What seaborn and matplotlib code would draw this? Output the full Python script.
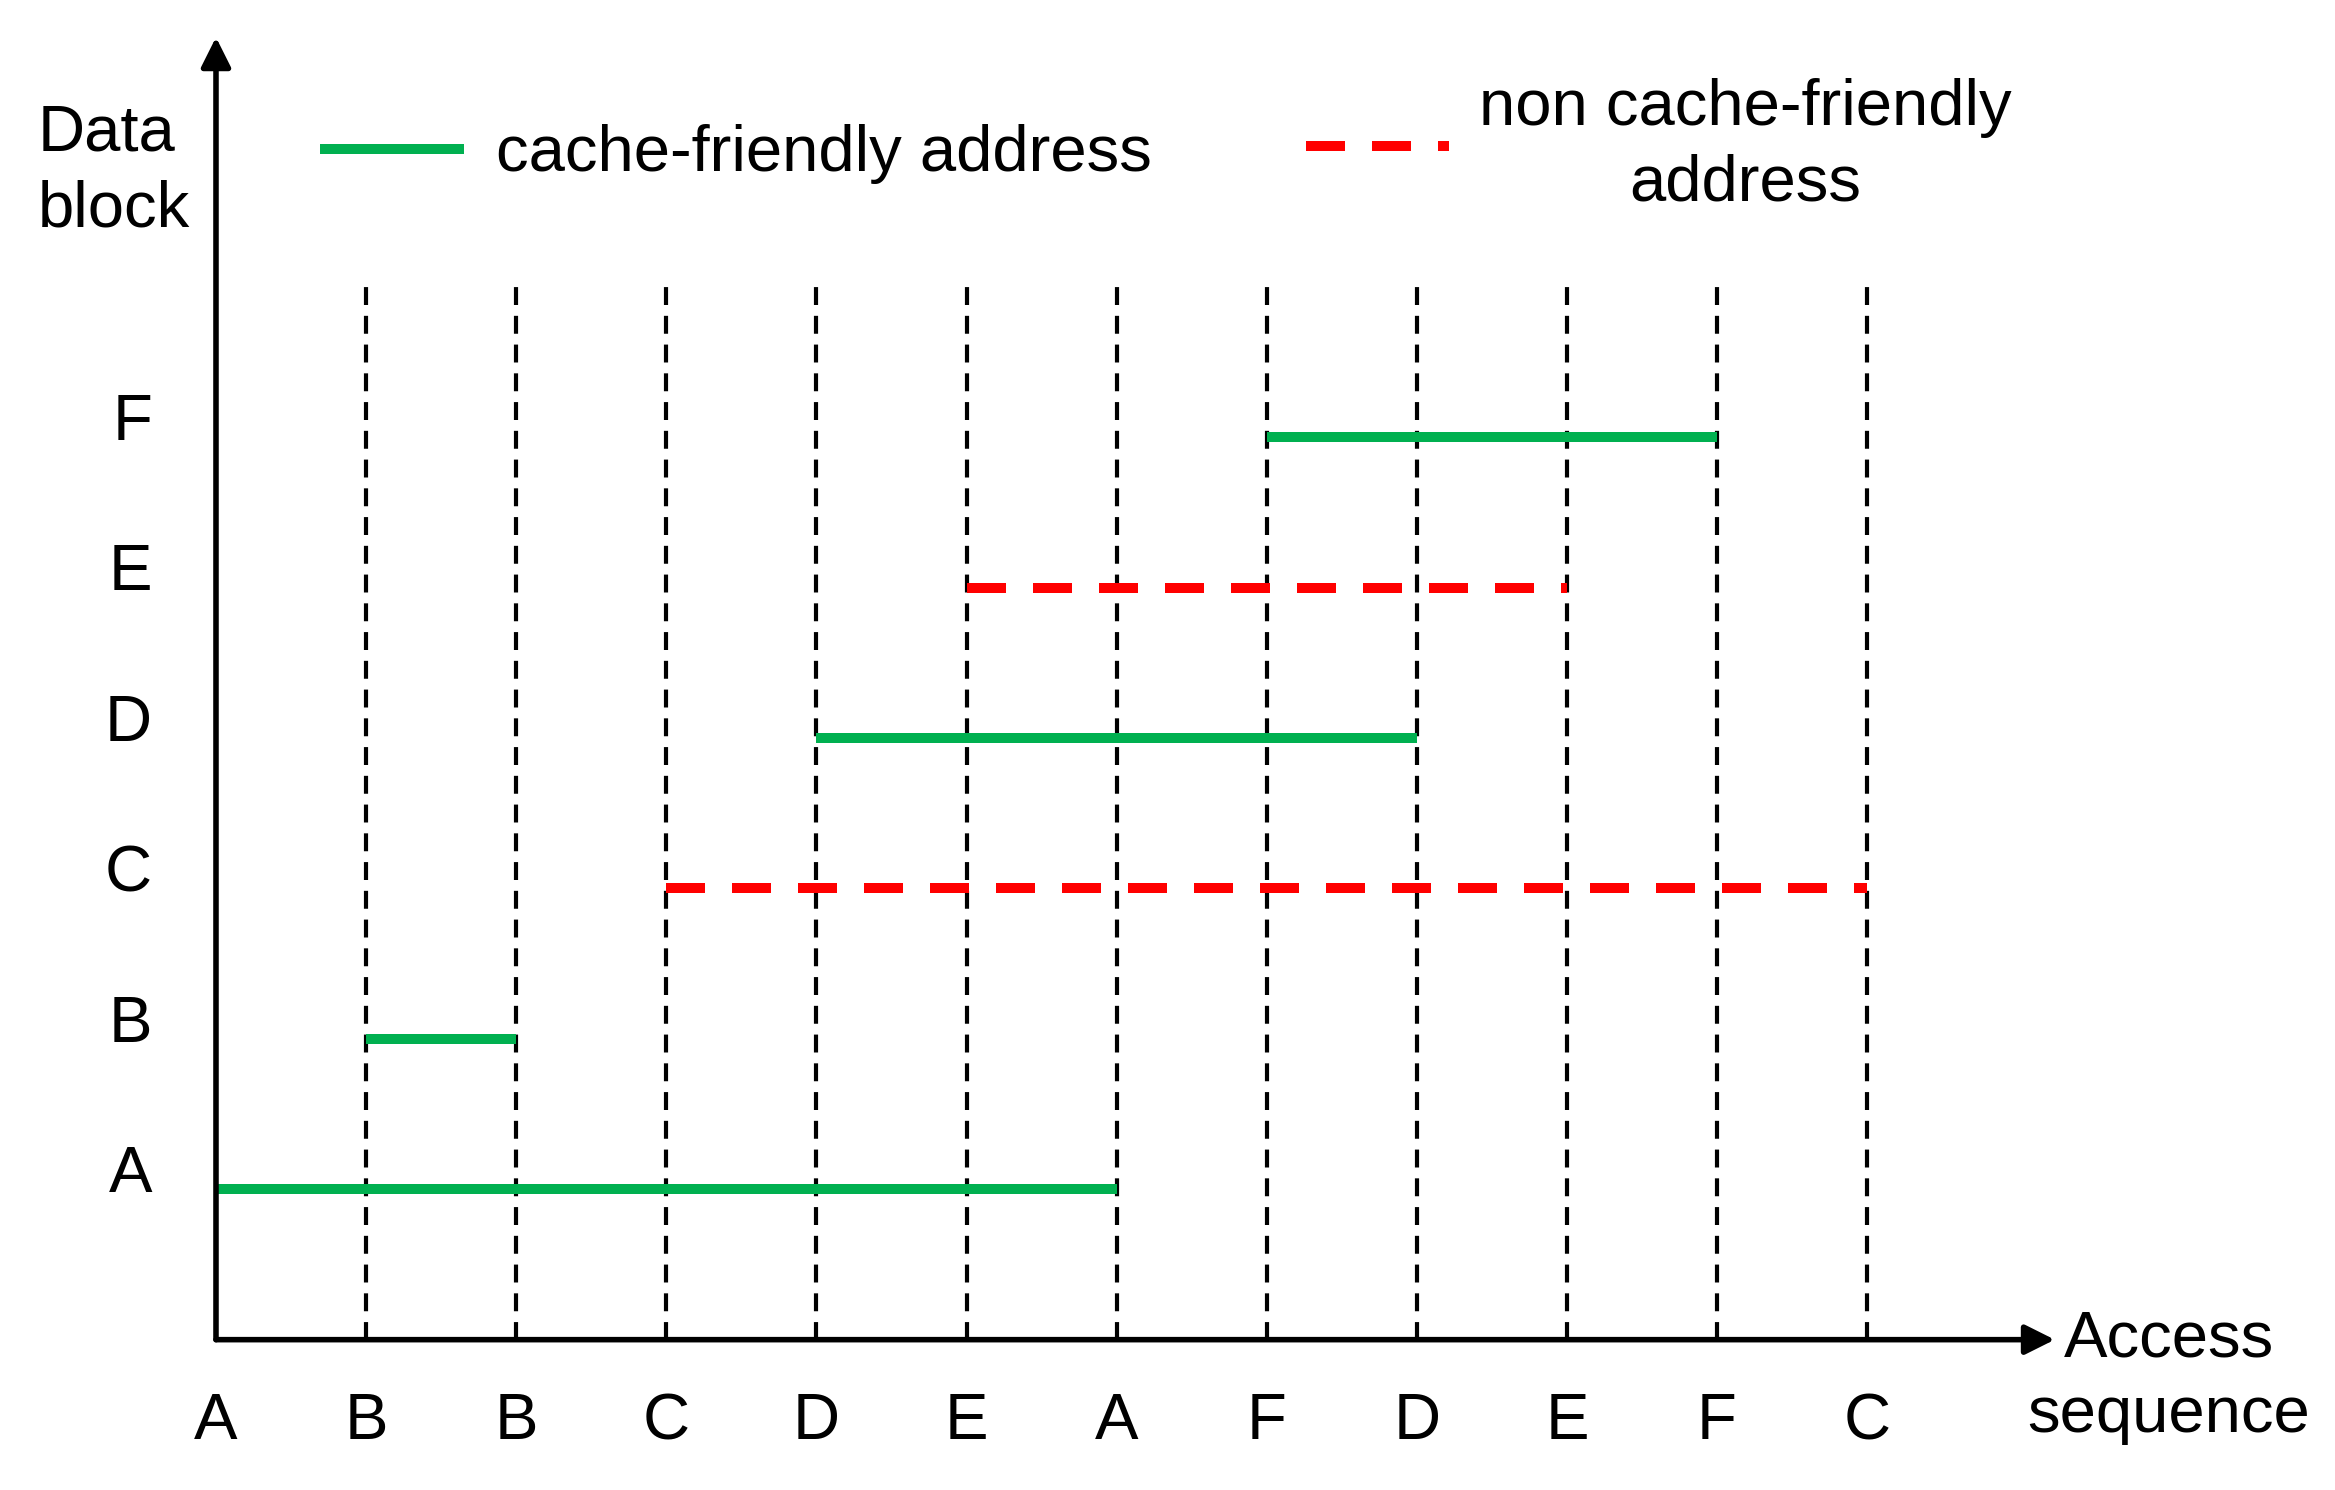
import pandas as pd
import matplotlib.pyplot as plt
import matplotlib.transforms as mtransforms
import seaborn as sns
import numpy as np
from matplotlib.lines import Line2D

# --- data ---
sequence = ['A', 'B', 'B', 'C', 'D', 'E', 'A', 'F', 'D', 'E', 'F', 'C']
blocks = ['A', 'B', 'C', 'D', 'E', 'F']
seg_start = [0, 1, 3, 4, 5, 7]
seg_end = [6, 2, 11, 8, 9, 10]
friendly = 'cache-friendly address'
non_friendly = 'non cache-friendly address'
seg_kind = [friendly, friendly, non_friendly, friendly, non_friendly, friendly]

rows = []
for i, b in enumerate(blocks):
    rows.append({'x': seg_start[i], 'y': i + 1, 'seg': b, 'kind': seg_kind[i]})
    rows.append({'x': seg_end[i], 'y': i + 1, 'seg': b, 'kind': seg_kind[i]})
df = pd.DataFrame(rows)

# --- style ---
sns.set_style('white')
plt.rcParams['font.family'] = ['Liberation Sans', 'DejaVu Sans']
plt.rcParams['text.color'] = 'black'
FS = 47
LS = 1.33
green = '#00B050'
red = '#FF0000'
red_dash = (3.9, 2.7)

fig = plt.figure(figsize=(23.35, 14.9), dpi=100)
ax = fig.add_axes([0.0925, 0.1009, 0.880 - 0.0925, 0.975 - 0.1009])

# vertical dashed guide lines at every access after the first
ax.vlines(np.arange(1, len(sequence)), 0, 7, colors='black', lw=3,
          linestyles=(0, (4.3, 2.6)), zorder=1)

sns.lineplot(data=df, x='x', y='y', hue='kind', style='kind', units='seg',
             estimator=None, sort=False, legend=False, ax=ax,
             palette={friendly: green, non_friendly: red},
             dashes={friendly: '', non_friendly: red_dash},
             lw=7.2, solid_capstyle='butt', zorder=3)

ax.set_xlim(0, 12.25)
ax.set_ylim(0, 8.66)
for s in ax.spines.values():
    s.set_visible(False)

# axes arrows
arrow = dict(arrowstyle='-|>', color='black', lw=4, mutation_scale=45,
             shrinkA=0, shrinkB=0)
ax.annotate('', xy=(1, 0), xytext=(0, 0), xycoords='axes fraction',
            arrowprops=arrow, annotation_clip=False)
ax.annotate('', xy=(0, 1), xytext=(0, 0), xycoords='axes fraction',
            arrowprops=arrow, annotation_clip=False)

ax.set_xticks(np.arange(len(sequence)))
ax.set_xticklabels(sequence)
ax.set_yticks(np.arange(1, len(blocks) + 1))
ax.set_yticklabels(blocks)
ax.tick_params(axis='both', length=0, labelsize=FS, colors='black')
ax.tick_params(axis='x', pad=38)
ax.tick_params(axis='y', pad=46)
ax.set_xlabel('')
ax.set_ylabel('')

# block letters sit a little above their rows
shift = mtransforms.ScaledTranslation(0, 15 / 72, fig.dpi_scale_trans)
for lbl in ax.get_yticklabels():
    lbl.set_transform(lbl.get_transform() + shift)

ax.text(-0.097, 0.897, 'Data\nblock', transform=ax.transAxes, fontsize=FS,
        ha='left', va='center', multialignment='left', linespacing=LS)
ax.text(1.062, -0.029, 'Access\nsequence', transform=ax.transAxes, fontsize=FS,
        ha='center', va='center', multialignment='center', linespacing=LS)

# legends
h1 = Line2D([], [], color=green, lw=7.2, solid_capstyle='butt')
h2 = Line2D([], [], color=red, lw=7.2, dashes=red_dash)
leg1 = ax.legend([h1], [friendly], loc='center left', bbox_to_anchor=(0.0567, 0.910),
                 frameon=False, fontsize=FS, handlelength=2.2, handletextpad=0.5,
                 borderpad=0, borderaxespad=0)
ax.add_artist(leg1)
leg2 = ax.legend([h2], ['non cache-friendly\naddress'], loc='center left',
                 bbox_to_anchor=(0.5927, 0.917), frameon=False, fontsize=FS,
                 handlelength=2.2, handletextpad=0.45,
                 borderpad=0, borderaxespad=0)
for t in leg2.get_texts():
    t.set_multialignment('center')
    t.set_linespacing(LS)

fig.savefig('out.png', dpi=100)
